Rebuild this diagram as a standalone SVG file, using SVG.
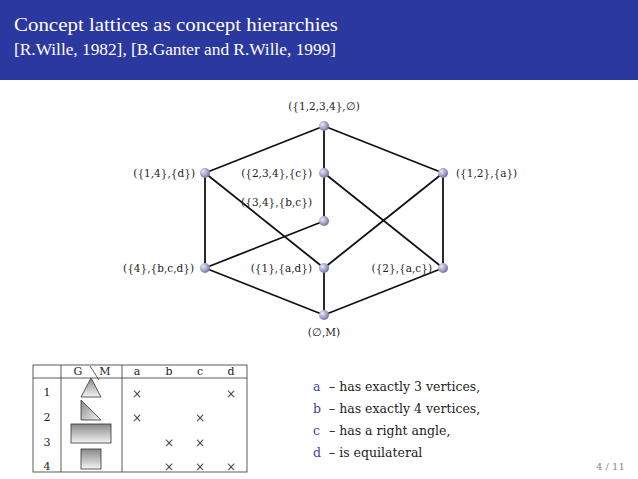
<svg xmlns="http://www.w3.org/2000/svg" width="638" height="479" viewBox="0 0 638 479">
<defs>
<radialGradient id="ball" cx="35%" cy="35%" r="65%"><stop offset="0" stop-color="#e8e8f8"/><stop offset="1" stop-color="#7878a8"/></radialGradient>
<linearGradient id="shade" x1="0" y1="0" x2="0" y2="1"><stop offset="0" stop-color="#888"/><stop offset="1" stop-color="#f4f4f4"/></linearGradient>
<linearGradient id="shade2" x1="0" y1="0" x2="1" y2="1"><stop offset="0" stop-color="#888"/><stop offset="1" stop-color="#f4f4f4"/></linearGradient>
</defs>
<style>
text{font-family:"DejaVu Serif","Liberation Serif",serif;fill:#222}
.lab{font-size:10.5px}
.t{font-size:11px;text-anchor:middle}
.x{font-size:12px;text-anchor:middle;fill:#444}
.leg{font-size:12.5px}
.b{fill:#3b44a8}
#edges line{stroke:#111;stroke-width:1.8}
.n{fill:url(#ball)}
</style>
<rect x="0" y="0" width="638" height="80" fill="#2b38a0"/>
<text x="14" y="31" textLength="324" lengthAdjust="spacingAndGlyphs" style="font-family:'Liberation Serif',serif;font-size:19px;fill:#fff">Concept lattices as concept hierarchies</text>
<text x="14" y="55" textLength="322" lengthAdjust="spacingAndGlyphs" style="font-family:'Liberation Serif',serif;font-size:16px;fill:#fff">[R.Wille, 1982], [B.Ganter and R.Wille, 1999]</text>
<g id="edges">
<line x1="324" y1="126" x2="205" y2="173"/><line x1="324" y1="126" x2="324" y2="173"/><line x1="324" y1="126" x2="443" y2="173"/>
<line x1="205" y1="173" x2="205" y2="268"/><line x1="205" y1="173" x2="324" y2="268"/>
<line x1="324" y1="173" x2="324" y2="221"/><line x1="324" y1="173" x2="443" y2="268"/>
<line x1="443" y1="173" x2="324" y2="268"/><line x1="443" y1="173" x2="443" y2="268"/>
<line x1="324" y1="221" x2="205" y2="268"/>
<line x1="205" y1="268" x2="324" y2="315"/><line x1="324" y1="268" x2="324" y2="315"/><line x1="443" y1="268" x2="324" y2="315"/>
</g>
<g id="n-top"><circle class="n" cx="324" cy="126" r="5"/><text class="lab" x="324" y="110" text-anchor="middle">({1,2,3,4},∅)</text></g>
<g id="n-14"><circle class="n" cx="205" cy="173" r="5"/><text class="lab" x="195" y="177" text-anchor="end">({1,4},{d})</text></g>
<g id="n-234"><circle class="n" cx="324" cy="173" r="5"/><text class="lab" x="312" y="177" text-anchor="end">({2,3,4},{c})</text></g>
<g id="n-12"><circle class="n" cx="443" cy="173" r="5"/><text class="lab" x="456" y="177">({1,2},{a})</text></g>
<g id="n-34"><circle class="n" cx="324" cy="221" r="5"/><text class="lab" x="312" y="206" text-anchor="end">({3,4},{b,c})</text></g>
<g id="n-4"><circle class="n" cx="205" cy="268" r="5"/><text class="lab" x="194" y="272" text-anchor="end">({4},{b,c,d})</text></g>
<g id="n-1"><circle class="n" cx="324" cy="268" r="5"/><text class="lab" x="312" y="272" text-anchor="end">({1},{a,d})</text></g>
<g id="n-2"><circle class="n" cx="443" cy="268" r="5"/><text class="lab" x="432" y="272" text-anchor="end">({2},{a,c})</text></g>
<g id="n-bot"><circle class="n" cx="324" cy="315" r="5"/><text class="lab" x="324" y="336" text-anchor="middle">(∅,M)</text></g>
<g id="table" stroke="#333" stroke-width="0.8" fill="none">
<rect x="33" y="365" width="214" height="107"/>
<line x1="33" y1="378" x2="247" y2="378"/>
<line x1="61" y1="365" x2="61" y2="472"/>
<line x1="122" y1="365" x2="122" y2="472"/>
<line x1="90" y1="366" x2="99" y2="380"/>
</g>
<text class="t" x="78" y="375">G</text><text class="t" x="105" y="375">M</text>
<text class="t" x="137" y="375">a</text><text class="t" x="169" y="375">b</text><text class="t" x="200" y="375">c</text><text class="t" x="231" y="375">d</text>
<text class="t" x="47" y="396">1</text><text class="t" x="47" y="421">2</text><text class="t" x="47" y="446">3</text><text class="t" x="47" y="470">4</text>
<polygon points="91,378 81,397 101,397" fill="url(#shade)" stroke="#333" stroke-width="0.8"/>
<polygon points="81,400 81,420 101,420" fill="url(#shade2)" stroke="#333" stroke-width="0.8"/>
<rect x="71" y="424" width="40" height="19" fill="url(#shade)" stroke="#333" stroke-width="0.8"/>
<rect x="81" y="449" width="20" height="20" fill="url(#shade)" stroke="#333" stroke-width="0.8"/>
<text class="x" x="137" y="398">×</text><text class="x" x="231" y="398">×</text>
<text class="x" x="137" y="422">×</text><text class="x" x="200" y="422">×</text>
<text class="x" x="169" y="447">×</text><text class="x" x="200" y="447">×</text>
<text class="x" x="169" y="471">×</text><text class="x" x="200" y="471">×</text><text class="x" x="231" y="471">×</text>
<g id="legend">
<text class="leg b" x="313" y="391">a</text><text class="leg" x="329" y="391">– has exactly 3 vertices,</text>
<text class="leg b" x="313" y="413">b</text><text class="leg" x="329" y="413">– has exactly 4 vertices,</text>
<text class="leg b" x="313" y="435">c</text><text class="leg" x="329" y="435">– has a right angle,</text>
<text class="leg b" x="313" y="457">d</text><text class="leg" x="329" y="457">– is equilateral</text>
</g>
<text x="596" y="470" style="font-size:10px;fill:#888">4 / 11</text>
</svg>
